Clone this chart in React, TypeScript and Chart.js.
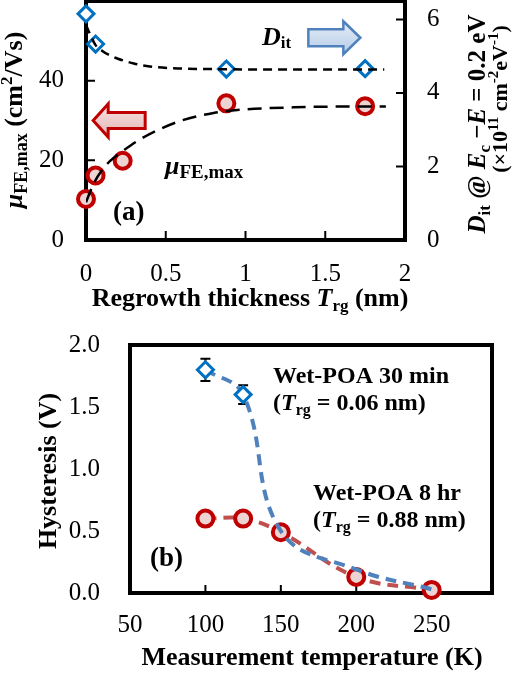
import React, { useEffect, useRef } from 'react';
import { Chart, registerables } from 'chart.js';
Chart.register(...registerables);

const FONT = '"Liberation Serif", "Times New Roman", Times, serif';

// ---- (a) regrowth thickness ----
const TRG_MU = [0, 0.06, 0.23, 0.88, 1.75];
const MU_FE = [10.3, 16.2, 19.9, 34.3, 33.6];
const TRG_DIT = [0, 0.06, 0.88, 1.75];
const DIT = [6.15, 5.33, 4.65, 4.66];
const FIT_MU_T = [0, 0.05, 0.1, 0.15, 0.23, 0.32, 0.45, 0.6, 0.8, 1.0, 1.3, 1.6, 1.88];
const FIT_MU = [9.5, 14.3, 17.5, 19.8, 22.3, 24.8, 27.6, 30.0, 31.9, 32.8, 33.3, 33.5, 33.5];
const FIT_DIT_T = [0, 0.03, 0.06, 0.1, 0.15, 0.2, 0.3, 0.4, 0.55, 0.75, 1.0, 1.4, 1.87];
const FIT_DIT = [5.85, 5.55, 5.3, 5.15, 5.02, 4.93, 4.8, 4.72, 4.67, 4.65, 4.64, 4.64, 4.64];
const A_X_TICKS = [0, 0.5, 1, 1.5, 2];
const A_Y_TICKS = [0, 20, 40];
const A_Y2_TICKS = [0, 2, 4, 6];

// ---- (b) hysteresis vs temperature ----
const TEMP = [100, 125, 150, 200, 250];
const HYS_30MIN = [1.8, 1.6, 0.5, 0.19, 0.03];
const HYS_30MIN_ERR = [0.09, 0.075, 0, 0, 0];
const HYS_8HR = [0.6, 0.6, 0.49, 0.13, 0.025];
const B_X_TICKS = [50, 100, 150, 200, 250];
const B_Y_TICKS = [0, 0.5, 1, 1.5, 2];

type Seg = { t: string; s: number; i?: boolean; dy?: number };

function segFont(g: Seg) {
  return `${g.i ? 'italic ' : ''}bold ${g.s}px ${FONT}`;
}

function drawRich(ctx: CanvasRenderingContext2D, segs: Seg[], x: number, y: number, align: 'left' | 'center', rot = 0) {
  ctx.save();
  ctx.translate(x, y);
  if (rot) ctx.rotate(rot);
  let w = 0;
  for (const g of segs) {
    ctx.font = segFont(g);
    w += ctx.measureText(g.t).width;
  }
  let cx = align === 'left' ? 0 : -w / 2;
  ctx.textAlign = 'left';
  ctx.textBaseline = 'alphabetic';
  ctx.fillStyle = '#000';
  for (const g of segs) {
    ctx.font = segFont(g);
    ctx.fillText(g.t, cx, g.dy || 0);
    cx += ctx.measureText(g.t).width;
  }
  ctx.restore();
}

function drawArrow(ctx: CanvasRenderingContext2D, tipX: number, tipY: number, dir: number, len: number, headLen: number,
  bodyHalf: number, headHalf: number, stroke: string, f0: string, f1: string, lw: number) {
  const tailX = tipX - dir * len;
  const baseX = tipX - dir * headLen;
  ctx.save();
  ctx.beginPath();
  ctx.moveTo(tipX, tipY);
  ctx.lineTo(baseX, tipY - headHalf);
  ctx.lineTo(baseX, tipY - bodyHalf);
  ctx.lineTo(tailX, tipY - bodyHalf);
  ctx.lineTo(tailX, tipY + bodyHalf);
  ctx.lineTo(baseX, tipY + bodyHalf);
  ctx.lineTo(baseX, tipY + headHalf);
  ctx.closePath();
  const g = ctx.createLinearGradient(0, tipY - headHalf, 0, tipY + headHalf);
  g.addColorStop(0, f0);
  g.addColorStop(1, f1);
  ctx.fillStyle = g;
  ctx.fill();
  ctx.lineJoin = 'miter';
  ctx.lineWidth = lw;
  ctx.strokeStyle = stroke;
  ctx.stroke();
  ctx.restore();
}

function framePlugin(o: { xt: number[]; yt: number[]; y2t?: number[]; lw: number; tick: number; yTicks: boolean }) {
  return {
    id: 'frame',
    beforeDatasetsDraw(chart: any) {
      const { ctx, chartArea: a, scales } = chart;
      ctx.save();
      ctx.strokeStyle = '#000';
      ctx.lineWidth = 2;
      ctx.beginPath();
      for (const v of o.xt) {
        const px = scales.x.getPixelForValue(v);
        ctx.moveTo(px, a.bottom);
        ctx.lineTo(px, a.bottom - o.tick);
      }
      if (o.yTicks) {
        for (const v of o.yt) {
          const py = scales.y.getPixelForValue(v);
          ctx.moveTo(a.left, py);
          ctx.lineTo(a.left + o.tick, py);
        }
      }
      if (o.y2t) {
        for (const v of o.y2t) {
          const py = scales.y2.getPixelForValue(v);
          ctx.moveTo(a.right, py);
          ctx.lineTo(a.right - o.tick, py);
        }
      }
      ctx.stroke();
      ctx.lineWidth = o.lw;
      ctx.strokeRect(a.left, a.top, a.right - a.left, a.bottom - a.top);
      ctx.restore();
    },
  };
}

const tickFont = { family: FONT, size: 25 };

const fitW = (w: number) => (s: any) => { s.width = w; s.paddingTop = 0; s.paddingBottom = 0; };
const fitH = (h: number) => (s: any) => { s.height = h; s.paddingLeft = 0; s.paddingRight = 0; };

function cfgA(): any {
  return {
    type: 'scatter',
    data: {
      datasets: [
        {
          data: FIT_DIT_T.map((x, i) => ({ x, y: FIT_DIT[i] })),
          yAxisID: 'y2', showLine: true, fill: false, borderColor: '#000', borderWidth: 2.5,
          borderDash: [9, 6], pointRadius: 0, cubicInterpolationMode: 'monotone',
        },
        {
          data: FIT_MU_T.map((x, i) => ({ x, y: FIT_MU[i] })),
          yAxisID: 'y', showLine: true, fill: false, borderColor: '#000', borderWidth: 2.5,
          borderDash: [14, 8], pointRadius: 0, cubicInterpolationMode: 'monotone',
        },
        {
          data: TRG_DIT.map((x, i) => ({ x, y: DIT[i] })),
          yAxisID: 'y2', pointStyle: 'rectRot', pointRadius: 8, pointBorderWidth: 3,
          pointBorderColor: '#0070c0', pointBackgroundColor: '#ffffff', clip: false,
        },
        {
          data: TRG_MU.map((x, i) => ({ x, y: MU_FE[i] })),
          yAxisID: 'y', pointStyle: 'circle', pointRadius: 8, pointBorderWidth: 4,
          pointBorderColor: '#c00000', pointBackgroundColor: '#eed3d3', clip: false,
        },
      ],
    },
    options: {
      responsive: false, animation: false, events: [],
      layout: { autoPadding: false, padding: { top: 1, left: 0, right: 0, bottom: 0 } },
      plugins: { legend: { display: false }, tooltip: { enabled: false } },
      scales: {
        x: {
          type: 'linear', min: 0, max: 2,
          afterBuildTicks: (s: any) => { s.ticks = A_X_TICKS.map((v) => ({ value: v })); },
          afterFit: fitH(80),
          grid: { display: false, drawTicks: false }, border: { display: false },
          ticks: { font: tickFont, color: '#000', padding: 19, maxRotation: 0, autoSkip: false, callback: (v: any) => String(v) },
        },
        y: {
          type: 'linear', position: 'left', min: 0, max: 60,
          afterBuildTicks: (s: any) => { s.ticks = A_Y_TICKS.map((v) => ({ value: v })); },
          afterFit: fitW(86),
          grid: { display: false, drawTicks: false }, border: { display: false },
          ticks: { font: tickFont, color: '#000', padding: 22, callback: (v: any) => String(v) },
        },
        y2: {
          type: 'linear', position: 'right', min: 0, max: 6.5,
          afterBuildTicks: (s: any) => { s.ticks = A_Y2_TICKS.map((v) => ({ value: v })); },
          afterFit: fitW(115),
          grid: { display: false, drawTicks: false }, border: { display: false },
          ticks: { font: tickFont, color: '#000', padding: 22, callback: (v: any) => String(v) },
        },
      },
    },
    plugins: [
      framePlugin({ xt: A_X_TICKS, yt: A_Y_TICKS, y2t: A_Y2_TICKS, lw: 4, tick: 9, yTicks: true }),
      {
        id: 'annA',
        afterDraw(chart: any) {
          const ctx = chart.ctx as CanvasRenderingContext2D;
          const { x, y, y2 } = chart.scales;
          drawArrow(ctx, x.getPixelForValue(0.045), y.getPixelForValue(30), -1, 52, 15, 8, 16.5,
            '#c00000', '#f8e4e4', '#e2b4b3', 3);
          drawArrow(ctx, x.getPixelForValue(1.72), y2.getPixelForValue(5.5), 1, 52, 17, 8.5, 16.5,
            '#4f81bd', '#e6eef8', '#b4cbe6', 2.5);
          drawRich(ctx, [{ t: 'D', s: 26, i: true }, { t: 'it', s: 17, dy: 3 }], 262, 45, 'left');
          drawRich(ctx, [{ t: '\u03bc', s: 26, i: true }, { t: 'FE,max', s: 19, dy: 4 }], 165, 174, 'left');
          drawRich(ctx, [{ t: '(a)', s: 27 }], 113, 220, 'left');
          drawRich(ctx, [{ t: 'Regrowth thickness ', s: 26 }, { t: 'T', s: 26, i: true }, { t: 'rg', s: 17, dy: 5 }, { t: ' (nm)', s: 26 }], 250, 306, 'center');
          drawRich(ctx, [{ t: '\u03bc', s: 26, i: true }, { t: 'FE,max', s: 18, dy: 5 }, { t: ' (cm', s: 26 }, { t: '2', s: 17, dy: -10 }, { t: '/Vs)', s: 26 }], 22, 120, 'center', -Math.PI / 2);
          drawRich(ctx, [{ t: 'D', s: 25, i: true }, { t: 'it', s: 17, dy: 5 }, { t: ' @ ', s: 25 }, { t: 'E', s: 25, i: true }, { t: 'c', s: 17, dy: 5 }, { t: ' \u2212', s: 25 }, { t: 'E', s: 25, i: true }, { t: ' = 0.2 eV', s: 25 }], 485, 124, 'center', -Math.PI / 2);
          drawRich(ctx, [{ t: '(\u00d710', s: 22 }, { t: '11', s: 15, dy: -9 }, { t: ' cm', s: 22 }, { t: '-2', s: 15, dy: -9 }, { t: 'eV', s: 22 }, { t: '-1', s: 15, dy: -9 }, { t: ')', s: 22 }], 507, 99, 'center', -Math.PI / 2);
        },
      },
    ],
  };
}

function cfgB(): any {
  return {
    type: 'scatter',
    data: {
      datasets: [
        {
          data: TEMP.map((x, i) => ({ x, y: HYS_30MIN[i] })),
          showLine: true, fill: false, borderColor: '#4f81bd', borderWidth: 4, borderDash: [11, 7], tension: 0.4,
          pointStyle: 'rectRot', pointRadius: [8, 8, 0, 0, 0], pointBorderWidth: 3,
          pointBorderColor: '#0070c0', pointBackgroundColor: '#ffffff', clip: false,
        },
        {
          data: TEMP.map((x, i) => ({ x, y: HYS_8HR[i] })),
          showLine: true, fill: false, borderColor: '#c0504d', borderWidth: 4, borderDash: [11, 7], tension: 0.4,
          pointStyle: 'circle', pointRadius: 8, pointBorderWidth: 4,
          pointBorderColor: '#c00000', pointBackgroundColor: '#eed3d3', clip: false,
        },
      ],
    },
    options: {
      responsive: false, animation: false, events: [],
      layout: { autoPadding: false, padding: { top: 25, left: 0, right: 28, bottom: 0 } },
      plugins: { legend: { display: false }, tooltip: { enabled: false } },
      scales: {
        x: {
          type: 'linear', min: 50, max: 290,
          afterBuildTicks: (s: any) => { s.ticks = B_X_TICKS.map((v) => ({ value: v })); },
          afterFit: fitH(81),
          grid: { display: false, drawTicks: false }, border: { display: false },
          ticks: { font: tickFont, color: '#000', padding: 17, maxRotation: 0, autoSkip: false, callback: (v: any) => String(v) },
        },
        y: {
          type: 'linear', position: 'left', min: 0, max: 2,
          afterBuildTicks: (s: any) => { s.ticks = B_Y_TICKS.map((v) => ({ value: v })); },
          afterFit: fitW(130),
          grid: { display: false, drawTicks: false }, border: { display: false },
          ticks: { font: tickFont, color: '#000', padding: 30, callback: (v: any) => Number(v).toFixed(1) },
        },
      },
    },
    plugins: [
      framePlugin({ xt: B_X_TICKS, yt: B_Y_TICKS, lw: 4, tick: 8, yTicks: false }),
      {
        id: 'errB',
        beforeDatasetsDraw(chart: any) {
          const ctx = chart.ctx as CanvasRenderingContext2D;
          const { x, y } = chart.scales;
          ctx.save();
          ctx.strokeStyle = '#000';
          ctx.lineWidth = 2;
          ctx.beginPath();
          TEMP.forEach((t, i) => {
            const e = HYS_30MIN_ERR[i];
            if (!e) return;
            const px = x.getPixelForValue(t);
            const top = y.getPixelForValue(HYS_30MIN[i] + e);
            const bot = y.getPixelForValue(HYS_30MIN[i] - e);
            ctx.moveTo(px, top); ctx.lineTo(px, bot);
            ctx.moveTo(px - 5, top); ctx.lineTo(px + 5, top);
            ctx.moveTo(px - 5, bot); ctx.lineTo(px + 5, bot);
          });
          ctx.stroke();
          ctx.restore();
        },
      },
      {
        id: 'annB',
        afterDraw(chart: any) {
          const ctx = chart.ctx as CanvasRenderingContext2D;
          drawRich(ctx, [{ t: 'Wet-POA 30 min', s: 24 }], 273, 63, 'left');
          drawRich(ctx, [{ t: '(', s: 24 }, { t: 'T', s: 24, i: true }, { t: 'rg', s: 16, dy: 5 }, { t: ' = 0.06 nm)', s: 24 }], 273, 90, 'left');
          drawRich(ctx, [{ t: 'Wet-POA 8 hr', s: 24 }], 313, 180, 'left');
          drawRich(ctx, [{ t: '(', s: 24 }, { t: 'T', s: 24, i: true }, { t: 'rg', s: 16, dy: 5 }, { t: ' = 0.88 nm)', s: 24 }], 313, 207, 'left');
          drawRich(ctx, [{ t: '(b)', s: 27 }], 150, 246, 'left');
          drawRich(ctx, [{ t: 'Measurement temperature (K)', s: 26 }], 312, 345, 'center');
          drawRich(ctx, [{ t: 'Hysteresis (V)', s: 26 }], 56, 151, 'center', -Math.PI / 2);
        },
      },
    ],
  };
}

export default function App() {
  const r1 = useRef<HTMLCanvasElement>(null);
  const r2 = useRef<HTMLCanvasElement>(null);
  useEffect(() => {
    const c1 = new Chart(r1.current as HTMLCanvasElement, cfgA());
    const c2 = new Chart(r2.current as HTMLCanvasElement, cfgB());
    return () => {
      c1.destroy();
      c2.destroy();
    };
  }, []);
  return (
    <div style={{ position: 'absolute', left: 0, top: 0, width: 520, height: 674, background: '#fff' }}>
      <canvas ref={r1} width={520} height={320} style={{ position: 'absolute', left: 0, top: 0, width: 520, height: 320 }} />
      <canvas ref={r2} width={520} height={354} style={{ position: 'absolute', left: 0, top: 320, width: 520, height: 354 }} />
    </div>
  );
}
